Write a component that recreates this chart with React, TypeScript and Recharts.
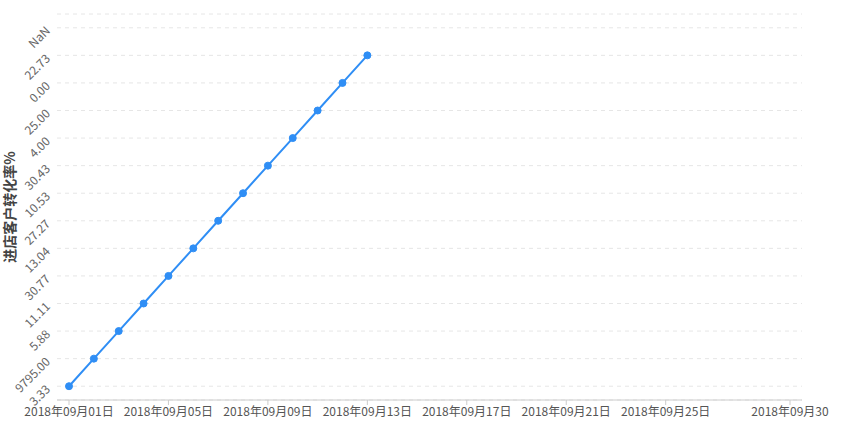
import React from 'react';
import { LineChart, Line, XAxis, YAxis, CartesianGrid } from 'recharts';

// y axis is a category list (the raw strings as they came back from the api)
const yCategories = [
  '3.33',
  '9795.00',
  '5.88',
  '11.11',
  '30.77',
  '13.04',
  '27.27',
  '10.53',
  '30.43',
  '4.00',
  '25.00',
  '0.00',
  '22.73',
  'NaN',
];

const days = [1, 2, 3, 4, 5, 6, 7, 8, 9, 10, 11, 12, 13];
const rates = [
  '3.33',
  '9795.00',
  '5.88',
  '11.11',
  '30.77',
  '13.04',
  '27.27',
  '10.53',
  '30.43',
  '4.00',
  '25.00',
  '0.00',
  '22.73',
];

const xTicks = [1, 5, 9, 13, 17, 21, 25, 30];

const chartData = days.map((d, i) => ({
  day: d,
  rate: rates[i],
  idx: yCategories.indexOf(rates[i]),
}));

const yTicks = [...yCategories.map((_, i) => i), yCategories.length - 0.5];

function formatDay(d: number): string {
  const dd = String(d).padStart(2, '0');
  return d === 30 ? `2018年09月${dd}` : `2018年09月${dd}日`;
}

const FONT = '"Noto Sans CJK SC", "Microsoft YaHei", sans-serif';

function YTick(props: any) {
  const { x, y, payload } = props;
  const label = yCategories[payload.value] ?? '';
  return (
    <text
      x={x}
      y={y}
      transform={`rotate(-45 ${x} ${y})`}
      textAnchor="end"
      dominantBaseline="central"
      fontSize={12}
      fill="#666"
      fontFamily={FONT}
    >
      {label}
    </text>
  );
}

function YTitle(props: any) {
  const { viewBox } = props;
  const cx = 9;
  const cy = viewBox.y + viewBox.height / 2;
  return (
    <text
      x={cx}
      y={cy}
      transform={`rotate(-90 ${cx} ${cy})`}
      textAnchor="middle"
      dominantBaseline="central"
      fontSize={14}
      fontWeight="bold"
      fill="#444"
      fontFamily={FONT}
    >
      进店客户转化率%
    </text>
  );
}

export default function App() {
  return (
    <div style={{ position: 'absolute', left: 0, top: 0, width: 845, height: 427, background: '#fff' }}>
      <LineChart
        width={845}
        height={427}
        data={chartData}
        margin={{ top: 14, right: 43, left: 0, bottom: 0 }}
      >
        <CartesianGrid
          vertical={false}
          stroke="#e6e6e6"
          strokeDasharray="4 4"
        />
        <XAxis
          dataKey="day"
          type="number"
          domain={[1, 30]}
          ticks={xTicks}
          tickFormatter={formatDay}
          padding={{ left: 12, right: 12 }}
          height={27}
          axisLine={{ stroke: '#ccc' }}
          tickLine={{ stroke: '#ccc' }}
          tickSize={5}
          tick={{ fontSize: 12, fill: '#555', fontFamily: FONT }}
          interval={0}
        />
        <YAxis
          dataKey="idx"
          type="number"
          domain={[-0.5, yCategories.length - 0.5]}
          ticks={yTicks}
          interval={0}
          width={57}
          axisLine={false}
          tickLine={false}
          tick={<YTick />}
          tickMargin={4}
          label={<YTitle />}
        />
        <Line
          type="linear"
          dataKey="idx"
          stroke="#2f8ef5"
          strokeWidth={2}
          dot={{ r: 3.5, fill: '#2f8ef5', stroke: '#2f8ef5', strokeWidth: 1 }}
          isAnimationActive={false}
        />
      </LineChart>
    </div>
  );
}
